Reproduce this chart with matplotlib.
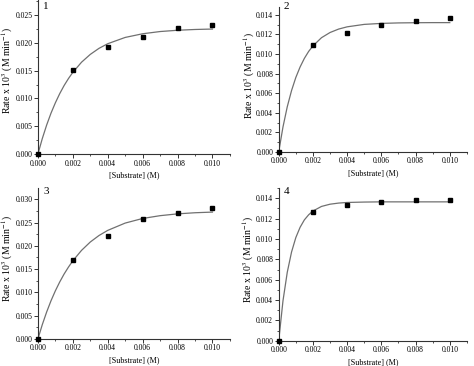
import matplotlib
matplotlib.use("Agg")
import matplotlib.pyplot as plt
from matplotlib.ticker import MultipleLocator, FormatStrFormatter

plt.rcParams['font.family'] = ['Liberation Serif', 'DejaVu Serif']
plt.rcParams['mathtext.fontset'] = 'stix'

# measured points
x_pts = [0.0, 0.002, 0.004, 0.006, 0.008, 0.010]
y1_pts = [0.0, 0.0151, 0.0192, 0.0210, 0.0226, 0.0232]
y2_pts = [0.0, 0.0109, 0.0121, 0.0130, 0.0134, 0.0137]
y3_pts = [0.0, 0.0170, 0.0222, 0.0258, 0.0270, 0.0281]
y4_pts = [0.0, 0.0127, 0.0133, 0.0136, 0.0138, 0.0138]

# fitted curves
x_fit = [0.0, 0.00025, 0.0005, 0.00075, 0.001, 0.00125, 0.0015, 0.00175, 0.002,
         0.0025, 0.003, 0.0035, 0.004, 0.005, 0.006, 0.007, 0.008, 0.009, 0.010]
y1_fit = [0.0, 0.00278, 0.00522, 0.00736, 0.00922, 0.01087, 0.01232, 0.01358, 0.01469,
          0.01652, 0.01792, 0.01901, 0.01984, 0.02097, 0.02163, 0.02203, 0.02226, 0.02240, 0.02248]
y2_fit = [0.0, 0.00255, 0.00461, 0.00626, 0.00760, 0.00867, 0.00955, 0.01026, 0.01082,
          0.01166, 0.01219, 0.01254, 0.01277, 0.01302, 0.01312, 0.01317, 0.01319, 0.01320, 0.01320]
y3_fit = [0.0, 0.00306, 0.00578, 0.00820, 0.01034, 0.01224, 0.01394, 0.01543, 0.01678,
          0.01903, 0.02082, 0.02222, 0.02332, 0.02489, 0.02588, 0.02648, 0.02687, 0.02711, 0.02725]
y4_fit = [0.0, 0.00393, 0.00673, 0.00872, 0.01014, 0.01115, 0.01188, 0.01238, 0.01275,
          0.01320, 0.01342, 0.01353, 0.01359, 0.01363, 0.01365, 0.01365, 0.01365, 0.01365, 0.01365]

W, H = 474, 366
panels = [
    ("1", y1_pts, y1_fit, 0.0277, 0.005, [0.080, 0.579, 0.405, 0.421], (43, 2), (-0.159, 0.54)),
    ("2", y2_pts, y2_fit, 0.0148, 0.002, [0.588, 0.585, 0.397, 0.396], (284, 2), (-0.158, 0.53)),
    ("3", y3_pts, y3_fit, 0.0324, 0.005, [0.080, 0.074, 0.405, 0.412], (43, 187), (-0.159, 0.53)),
    ("4", y4_pts, y4_fit, 0.0150, 0.002, [0.588, 0.069, 0.397, 0.417], (284, 187), (-0.162, 0.53)),
]

fig = plt.figure(figsize=(W / 100, H / 100), dpi=100)
for label, ypts, yfit, ytop, ystep, pos, lpos, ylc in panels:
    ax = fig.add_axes(pos)
    ax.plot(x_fit, yfit, color='#707070', lw=0.9, zorder=2)
    ax.plot(x_pts, ypts, 's', color='black', ms=3.2, zorder=3, clip_on=False)
    ax.set_xlim(0, 0.011)
    ax.set_ylim(0, ytop)
    for s in ['top', 'right']:
        ax.spines[s].set_visible(False)
    for s in ['left', 'bottom']:
        ax.spines[s].set_linewidth(0.8)
        ax.spines[s].set_color('#333333')
    ax.xaxis.set_major_locator(MultipleLocator(0.002))
    ax.xaxis.set_minor_locator(MultipleLocator(0.001))
    ax.yaxis.set_major_locator(MultipleLocator(ystep))
    ax.yaxis.set_minor_locator(MultipleLocator(ystep / 2))
    ax.xaxis.set_major_formatter(FormatStrFormatter('%.3f'))
    ax.yaxis.set_major_formatter(FormatStrFormatter('%.3f'))
    ax.tick_params(which='major', direction='out', length=3, width=0.7,
                   labelsize=5.5, pad=1.0, color='#333333')
    ax.tick_params(which='minor', direction='out', length=1.5, width=0.6, color='#333333')
    ax.set_xlabel('[Substrate] (M)', fontsize=5.9, labelpad=2.5)
    ax.set_ylabel(r'Rate x 10$^{3}$ (M min$^{-1}$)', fontsize=7, va='center')
    ax.yaxis.set_label_coords(*ylc)
    fig.text(lpos[0] / W, 1 - lpos[1] / H, label, fontsize=8, ha='left', va='top')

fig.savefig('out.png', dpi=100)
